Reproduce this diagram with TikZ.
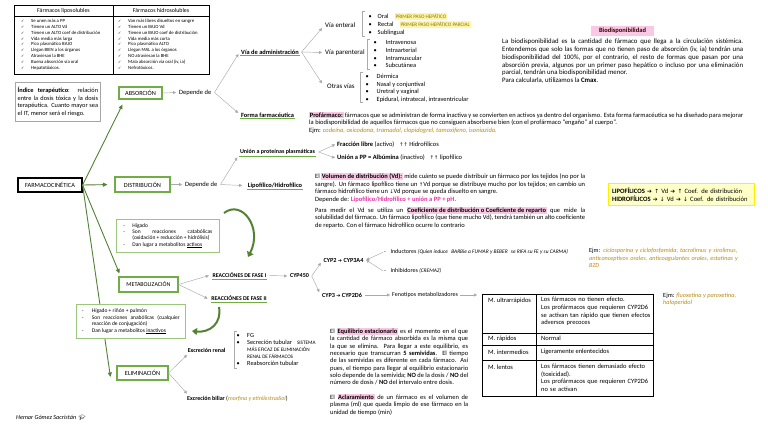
\documentclass[tikz,border=0pt]{standalone}
\usepackage{fontspec}
\setmainfont{Carlito}
\newfontfamily\dvs{DejaVu Sans}
\newfontfamily\emj{Noto Emoji}
\usetikzlibrary{arrows.meta,calc}
\hyphenpenalty=10000
\exhyphenpenalty=10000
\emergencystretch=2em
\definecolor{gboxc}{RGB}{112,173,71}
\definecolor{garrc}{RGB}{84,130,53}
\definecolor{grayc}{RGB}{170,170,170}
\definecolor{pinkhl}{RGB}{250,200,228}
\definecolor{yelhl}{RGB}{255,246,165}
\definecolor{goldt}{RGB}{184,140,20}
\definecolor{pinkt}{RGB}{232,50,160}
\definecolor{ybord}{RGB}{255,240,0}
\definecolor{yfill}{RGB}{255,255,200}
\definecolor{hlt}{RGB}{140,110,20}
\newcommand\fsz[2]{\fontsize{#1}{#2}\selectfont}
\newcommand\chk{{\dvs\fontsize{3.8}{4}\selectfont ✓}}
\newcommand\hlp[1]{{\setlength{\fboxsep}{0.6pt}\colorbox{pinkhl}{#1}}}
\newcommand\hly[1]{{\setlength{\fboxsep}{1pt}\colorbox{yelhl}{\fsz{5.2}{5.5}\color{hlt}#1}}}
\newcommand\upa{{\dvs\fontsize{5}{5}\selectfont ↑}}
\newcommand\dna{{\dvs\fontsize{5}{5}\selectfont ↓}}
\newcommand\rar{{\dvs\fontsize{5}{5}\selectfont ➔}}
\newcommand\bupa{{\dvs\fontsize{5.8}{6}\selectfont ↑}}
\newcommand\bdna{{\dvs\fontsize{5.8}{6}\selectfont ↓}}
\newcommand\brar{{\dvs\fontsize{5.8}{6}\selectfont ➔}}
\newcommand\gold[1]{\textit{\color{goldt}#1}}
\begin{document}
\begin{tikzpicture}[x=1pt,y=-1pt,
  txt/.style={font=\fsz{6.5}{7.6}, inner sep=0},
  head/.style={font=\bfseries\fsz{6.4}{7}, inner sep=0.6pt},
  uline/.style={draw=gboxc, line width=0.9pt},
  garr/.style={draw=grayc, line width=0.45pt, -{Triangle[length=3pt,width=3pt]}},
  brk/.style={draw=grayc, line width=0.4pt},
  marr/.style={draw=garrc, line width=0.9pt, -{Triangle[length=4.5pt,width=4pt]}},
  carr/.style={draw=garrc, line width=2pt, -{Triangle[length=5pt,width=7pt]}},
  gbox/.style={draw=gboxc, line width=1.1pt, fill=white, font=\fsz{6.3}{7}, inner sep=0},
  notebox/.style={draw=gboxc!70, line width=0.8pt, fill=white, inner ysep=2pt, align=justify, anchor=north west},
  tline/.style={draw=black, line width=0.8pt}
]
\useasboundingbox (0,0) rectangle (768,433);
\fill[white] (0,0) rectangle (768,433);

% ---------- top-left table ----------
\draw[tline] (14,5) rectangle (209,74);
\draw[tline] (14,16) -- (209,16);
\draw[tline] (113,5) -- (113,74);
\node[txt, font=\fsz{5.9}{6}] (hlipo) at (63.5,10.7) {Fármacos liposolubles};
\node[txt, font=\fsz{5.9}{6}] (hhidro) at (161,10.7) {Fármacos hidrosolubles};
\node[txt, anchor=north west, align=left, font=\fsz{4.75}{5.8}] (lipol) at (21,19.3) {%
\makebox[10pt][l]{\chk}Se unen más a PP\\
\makebox[10pt][l]{\chk}Tienen un ALTO Vd\\
\makebox[10pt][l]{\chk}Tienen un ALTO coef de distribución\\
\makebox[10pt][l]{\chk}Vida media más larga\\
\makebox[10pt][l]{\chk}Pico plasmático BAJO\\
\makebox[10pt][l]{\chk}Llegan BIEN a los órganos\\
\makebox[10pt][l]{\chk}Atraviesan la BHE\\
\makebox[10pt][l]{\chk}Buena absorción vía oral\\
\makebox[10pt][l]{\chk}Hepatotóxicos.};
\node[txt, anchor=north west, align=left, font=\fsz{4.75}{5.8}] (hidrol) at (118,19.3) {%
\makebox[10pt][l]{\chk}Van más libres disueltos en sangre\\
\makebox[10pt][l]{\chk}Tienen un BAJO Vd\\
\makebox[10pt][l]{\chk}Tienen un BAJO coef de distribución\\
\makebox[10pt][l]{\chk}Vida media más corta\\
\makebox[10pt][l]{\chk}Pico plasmático ALTO\\
\makebox[10pt][l]{\chk}Llegan MAL a los órganos\\
\makebox[10pt][l]{\chk}NO atraviesan la BHE\\
\makebox[10pt][l]{\chk}Mala absorción vía oral (iv, ia)\\
\makebox[10pt][l]{\chk}Nefrotóxicos.};

% ---------- indice terapeutico ----------
\node[draw=gray!70, line width=0.8pt, anchor=north west, text width=80.5pt, minimum height=39pt,
      inner xsep=2.25pt, inner ysep=2.5pt, align=justify, font=\fsz{6.35}{7.7}] (indice) at (15,82)
 {\textbf{Índice terapéutico}: relación entre la dosis tóxica y la dosis terapéutica. Cuanto mayor sea el IT, menor será el riesgo.};

% ---------- main boxes ----------
\node[draw=black, line width=1.2pt, minimum width=64pt, minimum height=14pt, font=\fsz{6.3}{7}, inner sep=0] (farma) at (50,185) {FARMACOCINÉTICA};
\node[gbox, minimum width=43pt, minimum height=12pt] (absor) at (140.5,93) {ABSORCIÓN};
\node[gbox, minimum width=55pt, minimum height=15pt] (distr) at (142.5,184.5) {DISTRIBUCIÓN};
\node[gbox, minimum width=59pt, minimum height=15pt, font=\fsz{6}{7}] (metab) at (148.5,284.5) {METABOLIZACIÓN};
\node[gbox, minimum width=51pt, minimum height=14pt] (elim) at (142.5,373) {ELIMINACIÓN};

\draw[marr] (farma.east) -- ([xshift=4pt,yshift=-5pt]absor.south west);
\draw[marr, shorten >=7pt] (farma.east) -- (distr.west);
\draw[marr] (farma.east) -- ([xshift=1pt,yshift=3pt]metab.north west);
\draw[marr] (farma.east) -- ([xshift=-6pt,yshift=-4pt]elim.west);

% ---------- absorcion ----------
\node[txt, anchor=west] (dep1) at (179,92.5) {Depende de};
\draw[garr] (absor.east) -- ([xshift=-3pt]dep1.west);
\node[head] (vadm) at (270,52) {Vía de administración};
\draw[uline] ([yshift=-0.6pt]vadm.south west) -- ([yshift=-0.6pt]vadm.south east);
\node[head] (ffarm) at (267.5,115) {Forma farmacéutica};
\draw[uline] ([yshift=-0.6pt]ffarm.south west) -- ([yshift=-0.6pt]ffarm.south east);
\draw[garr] ([xshift=3pt]dep1.east) -- ([xshift=-2pt,yshift=-2pt]vadm.west);
\draw[garr] ([xshift=3pt]dep1.east) -- ([xshift=-2pt,yshift=2pt]ffarm.west);

\node[txt, anchor=west, font=\fsz{6.9}{7}] (venteral) at (325,25.5) {Vía enteral};
\node[txt, anchor=west, font=\fsz{6.9}{7}] (vparen) at (325,52.5) {Vía parenteral};
\node[txt, anchor=west, font=\fsz{6.9}{7}] (votras) at (327,86) {Otras vías};
\draw[garr] ([xshift=2pt]vadm.east) -- ([xshift=-3pt]venteral.south west);
\draw[garr] ([xshift=2pt]vadm.east) -- ([xshift=-3pt]vparen.west);
\draw[garr] ([xshift=2pt]vadm.east) -- ([xshift=-5pt]votras.north west);

\draw[brk] (365,11) -- (362,11) -- (362,36) -- (365,36);
\draw[brk] (370,39) -- (367,39) -- (367,69) -- (370,69);
\draw[brk] (363,72) -- (360,72) -- (360,102) -- (363,102);

\node[txt, anchor=north west, align=left, font=\fsz{6.4}{8}] (lent) at (368.5,13.2) {%
\makebox[9pt][l]{•}Oral\hspace{6pt}\hly{PRIMER PASO HEPÁTICO}\\
\makebox[9pt][l]{•}Rectal\hspace{6pt}\hly{PRIMER PASO HEPÁTICO PARCIAL}\\
\makebox[9pt][l]{•}Sublingual};
\node[txt, anchor=north west, align=left, font=\fsz{6.4}{7.8}] (lpar) at (373.5,40.2) {%
\makebox[12pt][l]{•}Intravenosa\\
\makebox[12pt][l]{•}Intraarterial\\
\makebox[12pt][l]{•}Intramuscular\\
\makebox[12pt][l]{•}Subcutánea};
\node[txt, anchor=north west, align=left, font=\fsz{6.4}{7.8}] (lotr) at (365.5,73.6) {%
\makebox[11pt][l]{•}Dérmica\\
\makebox[11pt][l]{•}Nasal y conjuntival\\
\makebox[11pt][l]{•}Uretral y vaginal\\
\makebox[11pt][l]{•}Epidural, intratecal, intraventricular};

% ---------- biodisponibilidad ----------
\node[fill=pinkhl, minimum width=63pt, minimum height=10pt, inner sep=0, font=\bfseries\fsz{6.5}{7}, text=black!80!red] (biot) at (622.5,31) {Biodisponibilidad};
\node[txt, anchor=north west, text width=241pt, align=justify, font=\fsz{6.8}{7.7}] (biop) at (502,39) {%
La biodisponibilidad es la cantidad de fármaco que llega a la circulación sistémica. Entendemos que solo las formas que no tienen paso de absorción (iv, ia) tendrán una biodisponibilidad del 100\%, por el contrario, el resto de formas que pasan por una absorción previa, algunos por un primer paso hepático o incluso por una eliminación parcial, tendrán una biodisponibilidad menor.\par
Para calcularla, utilizamos la \textbf{Cmax}.};

% ---------- profarmaco ----------
\node[txt, anchor=north west, text width=434pt, align=justify, font=\fsz{6.5}{7.6}] (prof) at (309,111.8) {%
\hlp{\textbf{Profármaco:}} fármacos que se administran de forma inactiva y se convierten en activos ya dentro del organismo. Esta forma farmacéutica se ha diseñado para mejorar la biodisponibilidad de aquellos fármacos que no consiguen absorberse bien (con el profármaco “engaño” al cuerpo”.\par
Ejm: \gold{codeína, oxicodona, tramadol, clopidogrel, tamoxifeno, isoniazida.}};

% ---------- distribucion ----------
\node[txt, anchor=west] (dep2) at (185,184.5) {Depende de};
\draw[garr] (distr.east) -- ([xshift=-3pt]dep2.west);
\node[head, font=\bfseries\fsz{6}{7}] (upp) at (277.5,152) {Unión a proteínas plasmáticas};
\draw[uline] ([yshift=-0.6pt]upp.south west) -- ([yshift=-0.6pt]upp.south east);
\node[head] (lipo) at (275,185.5) {Lipofílico/Hidrofílico};
\draw[uline] ([yshift=-0.6pt]lipo.south west) -- ([yshift=-0.6pt]lipo.south east);
\draw[garr] ([xshift=3pt]dep2.east) -- ([xshift=-2pt,yshift=-2pt]upp.south west);
\draw[garr] ([xshift=3pt]dep2.east) -- ([xshift=-5pt]lipo.west);

\node[txt, anchor=west] (frac) at (337,144.5) {\textbf{Fracción libre} (activo)\hspace{5pt}\upa\upa\ Hidrofílicos};
\node[txt, anchor=west] (unpp) at (337,158) {\textbf{Unión a PP = Albúmina} (inactivo)\hspace{5pt}\upa\upa\ lipofílico};
\draw[garr] ([xshift=3pt]upp.east) -- ([xshift=-2pt]frac.west);
\draw[garr] ([xshift=3pt]upp.east) -- ([xshift=-2pt]unpp.west);

\node[txt, anchor=north west, text width=270pt, align=justify, font=\fsz{6.5}{7.5}] (vd) at (315,172.9) {%
El \hlp{\textbf{Volumen de distribución (Vd):}} mide cuánto se puede distribuir un fármaco por los tejidos (no por la sangre). Un fármaco lipofílico tiene un \upa Vd porque se distribuye mucho por los tejidos; en cambio un fármaco hidrofílico tiene un \dna Vd porque se queda disuelto en sangre.\par
Depende de: {\color{pinkt}\textbf{Lipofílico/Hidrofílico + unión a PP + pH.}}};
\node[txt, anchor=north west, text width=270pt, align=justify, font=\fsz{6.5}{7.5}] (coef) at (315,206.9) {%
Para medir el Vd se utiliza un \hlp{\textbf{Coeficiente de distribución o Coeficiente de reparto}} que mide la solubilidad del fármaco. Un fármaco lipofílico (que tiene mucho Vd), tendrá también un alto coeficiente de reparto. Con el fármaco hidrofílico ocurre lo contrario};

\node[draw=ybord, line width=1.2pt, fill=yfill, anchor=north west, minimum width=146pt, minimum height=22pt,
      text width=139pt, inner xsep=3.5pt, inner ysep=0pt, align=left, font=\fsz{6.6}{8.4}] (lhbox) at (608,183) {%
\textbf{LIPOFÍLICOS} \brar\ \bupa\ Vd \brar\ \bupa\ Coef. de distribución\\
\textbf{HIDROFÍLICOS} \brar\ \bdna\ Vd \brar\ \bdna\ Coef. de distribución};

% ---------- metabolizacion ----------
\node[notebox, text width=89pt, inner xsep=7pt, minimum height=33pt, font=\fsz{5.5}{6.3}] (f1box) at (116,219) {%
\hangindent=9pt\hangafter=1\makebox[9pt][l]{-}Hígado\par
\hangindent=9pt\hangafter=1\makebox[9pt][l]{-}Son reacciones catabólicas (oxidación + reducción + hidrólisis)\par
\hangindent=9pt\hangafter=1\makebox[9pt][l]{-}Dan lugar a metabolitos \underline{activos}};
\node[notebox, text width=98pt, inner xsep=5.5pt, minimum height=34pt, font=\fsz{5.5}{6.5}] (f2box) at (76,304) {%
\hangindent=10pt\hangafter=1\makebox[10pt][l]{-}Hígado + riñón + pulmón\par
\hangindent=10pt\hangafter=1\makebox[10pt][l]{-}Son reacciones anabólicas (cualquier reacción de conjugación)\par
\hangindent=10pt\hangafter=1\makebox[10pt][l]{-}Dan lugar a metabolitos \underline{inactivos}};

\node[head, font=\bfseries\fsz{5.8}{7}] (fase1) at (239.5,275.5) {REACCIÓNES DE FASE I};
\draw[uline] ([yshift=-0.6pt]fase1.south west) -- ([yshift=-0.6pt]fase1.south east);
\node[head, font=\bfseries\fsz{5.8}{7}] (fase2) at (239,298.5) {REACCIÓNES DE FASE II};
\draw[uline] ([yshift=-0.6pt]fase2.south west) -- ([yshift=-0.6pt]fase2.south east);
\draw[garr] (metab.east) -- ([xshift=-3pt]fase1.west);
\draw[garr] (metab.east) -- ([xshift=-3pt]fase2.west);

\coordinate (c1s) at (224,213);
\coordinate (c1e) at (248,257);
\draw[carr] (c1s) .. controls (242,199) and (263,228) .. (c1e);
\coordinate (c2s) at (219,307);
\coordinate (c2e) at (192,331);
\draw[carr] (c2s) .. controls (222,323) and (210,333) .. (c2e);

\node[head, font=\bfseries\fsz{6.1}{7}] (cyp450) at (299.5,276) {CYP450};
\draw[garr] ([xshift=2pt]fase1.east) -- ([xshift=-2pt]cyp450.west);
\node[head, font=\bfseries\fsz{6.2}{7}] (cyp2) at (343.5,260) {CYP2 \rar\ CYP3A4};
\node[head, font=\bfseries\fsz{6.2}{7}] (cyp3) at (342,295) {CYP3 \rar\ CYP2D6};
\draw[garr] ([xshift=2pt]cyp450.east) -- ([xshift=-2pt]cyp2.south west);
\draw[garr] ([xshift=2pt]cyp450.east) -- ([xshift=-2pt]cyp3.north west);

\node[txt, anchor=west, font=\fsz{6}{7}] (ind) at (384,252.3) {-\hspace{4.5pt}Inductores {\fsz{5.4}{6}\itshape (Quien induce\hspace{2pt} BARBie a FUMAR y BEBER\hspace{2pt} se RIFA su FE y su CARMA)}};
\node[txt, anchor=west, font=\fsz{6}{7}] (inh) at (384,271) {-\hspace{4.5pt}Inhibidores {\fsz{5.4}{6}\itshape (CREMAZ)}};
\draw[garr] ([xshift=-1pt]ind.west) -- ([xshift=2pt]cyp2.east);
\draw[garr] ([xshift=-1pt]inh.west) -- ([xshift=2pt]cyp2.east);

\node[txt, anchor=north west, text width=154pt, align=left, font=\fsz{6.2}{7.4}] (ejm1) at (589,248.3) {%
Ejm: \gold{ciclosporina y ciclofosfamida, tacrolimus y sirolimus, anticonceptivos orales, anticoagulantes orales, estatinas y BZD}};

\node[txt, anchor=west, font=\fsz{6}{7}] (fen) at (392,295) {Fenotipos metabolizadores};
\draw[garr] ([xshift=2pt]cyp3.east) -- ([xshift=-2pt]fen.west);

% ---------- fenotipos table ----------
\draw[tline] (482,294) rectangle (653,396);
\draw[tline] (536,294) -- (536,396);
\draw[tline] (482,333) -- (653,333);
\draw[tline] (482,345) -- (653,345);
\draw[tline] (482,360) -- (653,360);
\coordinate (tblw) at (482,295);
\draw[garr] ([xshift=2pt]fen.east) -- ([xshift=-5pt]tblw);
\node[txt, anchor=west] (mu) at (488,300.3) {M. ultrarrápidos};
\node[txt, anchor=west] (mr) at (488,338.5) {M. rápidos};
\node[txt, anchor=west] (mi) at (488,351.8) {M. intermedios};
\node[txt, anchor=west] (ml) at (488,367.3) {M. lentos};
\node[txt, anchor=north west, text width=110pt, align=left, font=\fsz{6.5}{7.7}] (mud) at (541,297.2) {%
Los fármacos no tienen efecto.\\
Los profármacos que requieren CYP2D6 se activan tan rápido que tienen efectos adversos precoces};
\node[txt, anchor=west] (mrd) at (541,338.5) {Normal};
\node[txt, anchor=west] (mid) at (541,351.8) {Ligeramente enlentecidos};
\node[txt, anchor=north west, text width=110pt, align=left, font=\fsz{6.5}{7.5}] (mld) at (541,364.2) {%
Los fármacos tienen demasiado efecto (toxicidad).\\
Los profármacos que requieren CYP2D6 no se activan};

\node[txt, anchor=north west, align=left, font=\fsz{6.3}{7.5}] (ejm2) at (663,292.8) {%
Ejm: \gold{fluoxetina y paroxetina,}\\ \gold{haloperidol}};

% ---------- equilibrio / aclaramiento ----------
\node[txt, anchor=north west, text width=138pt, align=justify, font=\fsz{6.45}{7.35}] (equi) at (330,328) {%
El \hlp{\textbf{Equilibrio estacionario}} es el momento en el que la cantidad de fármaco absorbida es la misma que la que se elimina. Para llegar a este equilibrio, es necesario que transcurran \textbf{5 semividas}. El tiempo de las semividas es diferente en cada fármaco. Así pues, el tiempo para llegar al equilibrio estacionario solo depende de la semivida; \textbf{NO} de la dosis / \textbf{NO} del número de dosis / \textbf{NO} del intervalo entre dosis.};
\node[txt, anchor=north west, text width=138pt, align=justify, font=\fsz{6.45}{7.35}] (acla) at (330,394.1) {%
El \hlp{\textbf{Aclaramiento}} de un fármaco es el volumen de plasma (ml) que queda limpio de ese fármaco en la unidad de tiempo (min)};

% ---------- eliminacion ----------
\node[head, anchor=west, font=\bfseries\fsz{6}{7}] (exr) at (187,350) {Excreción renal};
\node[txt, anchor=west, font=\fsz{6}{7}] (exb) at (187,398.5) {\textbf{Excreción biliar} (\gold{morfina y etinilestradiol})};
\draw[garr] (elim.east) -- ([yshift=-2pt]exr.south west);
\draw[garr] (elim.east) -- ([yshift=2pt]exb.north west);
\draw[brk] (237,331) -- (234,331) -- (234,368) -- (237,368);
\node[txt, anchor=north west, align=left, font=\fsz{6.3}{7.1}] (renl) at (236.5,333.3) {%
\makebox[10.5pt][l]{•}FG\\
\makebox[10.5pt][l]{•}Secreción tubular\hspace{5pt}{\fsz{5.2}{5.5}SISTEMA}\\
\hspace{10.5pt}{\fsz{5.2}{5.5}MÁS EFICAZ DE ELIMINACIÓN}\\
\hspace{10.5pt}{\fsz{5.2}{5.5}RENAL DE FÁRMACOS}\\
\makebox[10.5pt][l]{•}Reabsorción tubular};

% ---------- author ----------
\node[txt, anchor=west, font=\itshape\fsz{6.2}{7}] (auth) at (16,417.5) {Hemar Gómez Sacristán \,{\emj\fontsize{5.5}{6}\selectfont 🎓}};
\end{tikzpicture}
\end{document}
